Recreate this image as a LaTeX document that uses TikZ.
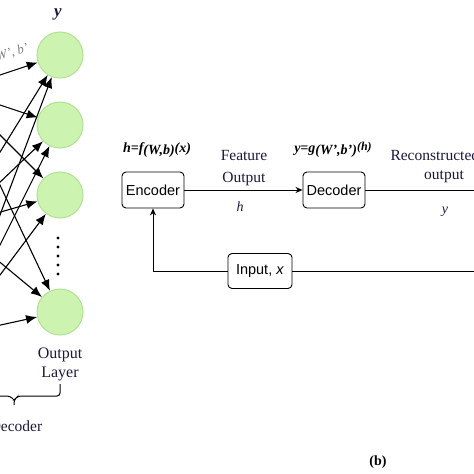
\documentclass[tikz,border=0pt]{standalone}
\usepackage{fontspec}
\setmainfont{Liberation Serif}
\setsansfont{Liberation Sans}
\usepackage{amsmath}
\usepackage{tikz}
\usetikzlibrary{
    arrows.meta,
    calc,
    positioning,
}
\definecolor{nodefill}{RGB}{204,243,176}
\definecolor{nodeedge}{RGB}{176,226,146}
\definecolor{labtext}{RGB}{25,25,60}
\tikzstyle{arrow}=[-{Stealth[length=7pt, width=6pt]}]
\tikzstyle{bigarrow}=[-{Latex[length=11pt, width=9pt]}]
\tikzset{
    neuron/.style={circle, draw=nodeedge, fill=nodefill, line width=1pt, minimum size=46pt, inner sep=0pt},
    blockbox/.style={draw, rounded corners=4pt, line width=0.9pt, minimum width=62pt, minimum height=36pt, inner sep=1pt, font=\sffamily\fontsize{14.5}{16}\selectfont},
    lab/.style={font=\fontsize{15.5}{18}\selectfont, text=labtext, inner sep=0pt},
    eqlab/.style={font=\bfseries\itshape\fontsize{14}{16}\selectfont, inner sep=0pt},
}

\begin{document}
\begin{tikzpicture}[x=1pt, y=-1pt, line width=1pt]
    \useasboundingbox (0,0) rectangle (474,474);
    \clip (0,0) rectangle (474,474);

    \node[neuron] (out1) at (60,55) {};
    \node[neuron] (out2) at (60,125) {};
    \node[neuron] (out3) at (60,195) {};
    \node[neuron] (out4) at (60,312) {};
    \foreach \i/\hy in {1/90, 2/225, 3/335}
        \coordinate (hid\i) at (-45,\hy);
    \foreach \i in {1,...,3}
        \foreach \o in {out1,out2,out3,out4}
            \draw[bigarrow, line width=1.1pt] (hid\i) -- (\o);
    \foreach \dy in {238,247,256,265,274}
        \fill (58,\dy) circle (1.6pt);

    \node[font=\bfseries\itshape\fontsize{17}{18}\selectfont, text=labtext] (ylab) at (58,14) {y};
    \node[rotate=15, anchor=south east, text=gray, font=\itshape\fontsize{13}{14}\selectfont, inner sep=0pt] (wlab) at (30,54) {W', b'};
    \node[lab, align=center, font=\fontsize{16}{19}\selectfont] (outlayer) at (60,364) {Output\\Layer};
    \draw[rounded corners=3pt] (60,384) -- (60,396) -- (18,396) -- (14,400) -- (14,405);
    \draw[rounded corners=3pt] (-32,384) -- (-32,396) -- (10,396) -- (14,400);
    \node[lab, font=\fontsize{15.5}{18}\selectfont] (declab) at (16,426) {Decoder};

    \node[blockbox] (enc) at (153,190) {Encoder};
    \node[blockbox] (dec) at (334,190) {Decoder};
    \node[blockbox, minimum width=64pt, minimum height=35pt] (inp) at (260,271) {Input, \textit{x}};
    \coordinate (decout) at (480,190);
    \coordinate (inpright) at (480,271);

    \draw[arrow] (enc) -- (dec);
    \draw (dec) -- (decout);
    \draw (inpright) -- (inp);
    \draw[arrow] (inp.west) -| (enc.south);

    \node[eqlab] (encfun) at (157,150) {h=f\raisebox{-2pt}{(W,b)}(x)};
    \node[eqlab] (decfun) at (333,150) {y=g\raisebox{-2pt}{(W',b')}\raisebox{2pt}{\fontsize{12}{13}\selectfont(h)}};
    \node[lab] (feat) at (244,155) {Feature};
    \node[lab] (featout) at (244,179) {Output};
    \node[lab, font=\itshape\fontsize{14}{16}\selectfont] (hlab) at (240,207) {h};
    \node[lab, anchor=west] (recon) at (390,155) {Reconstructed};
    \node[lab] (reconout) at (444,177) {output};
    \node[lab, font=\itshape\fontsize{14}{16}\selectfont] (yout) at (445,212) {y};

    \node[font=\bfseries\fontsize{14}{16}\selectfont] (sublab) at (378,462) {(b)};
\end{tikzpicture}
\end{document}
